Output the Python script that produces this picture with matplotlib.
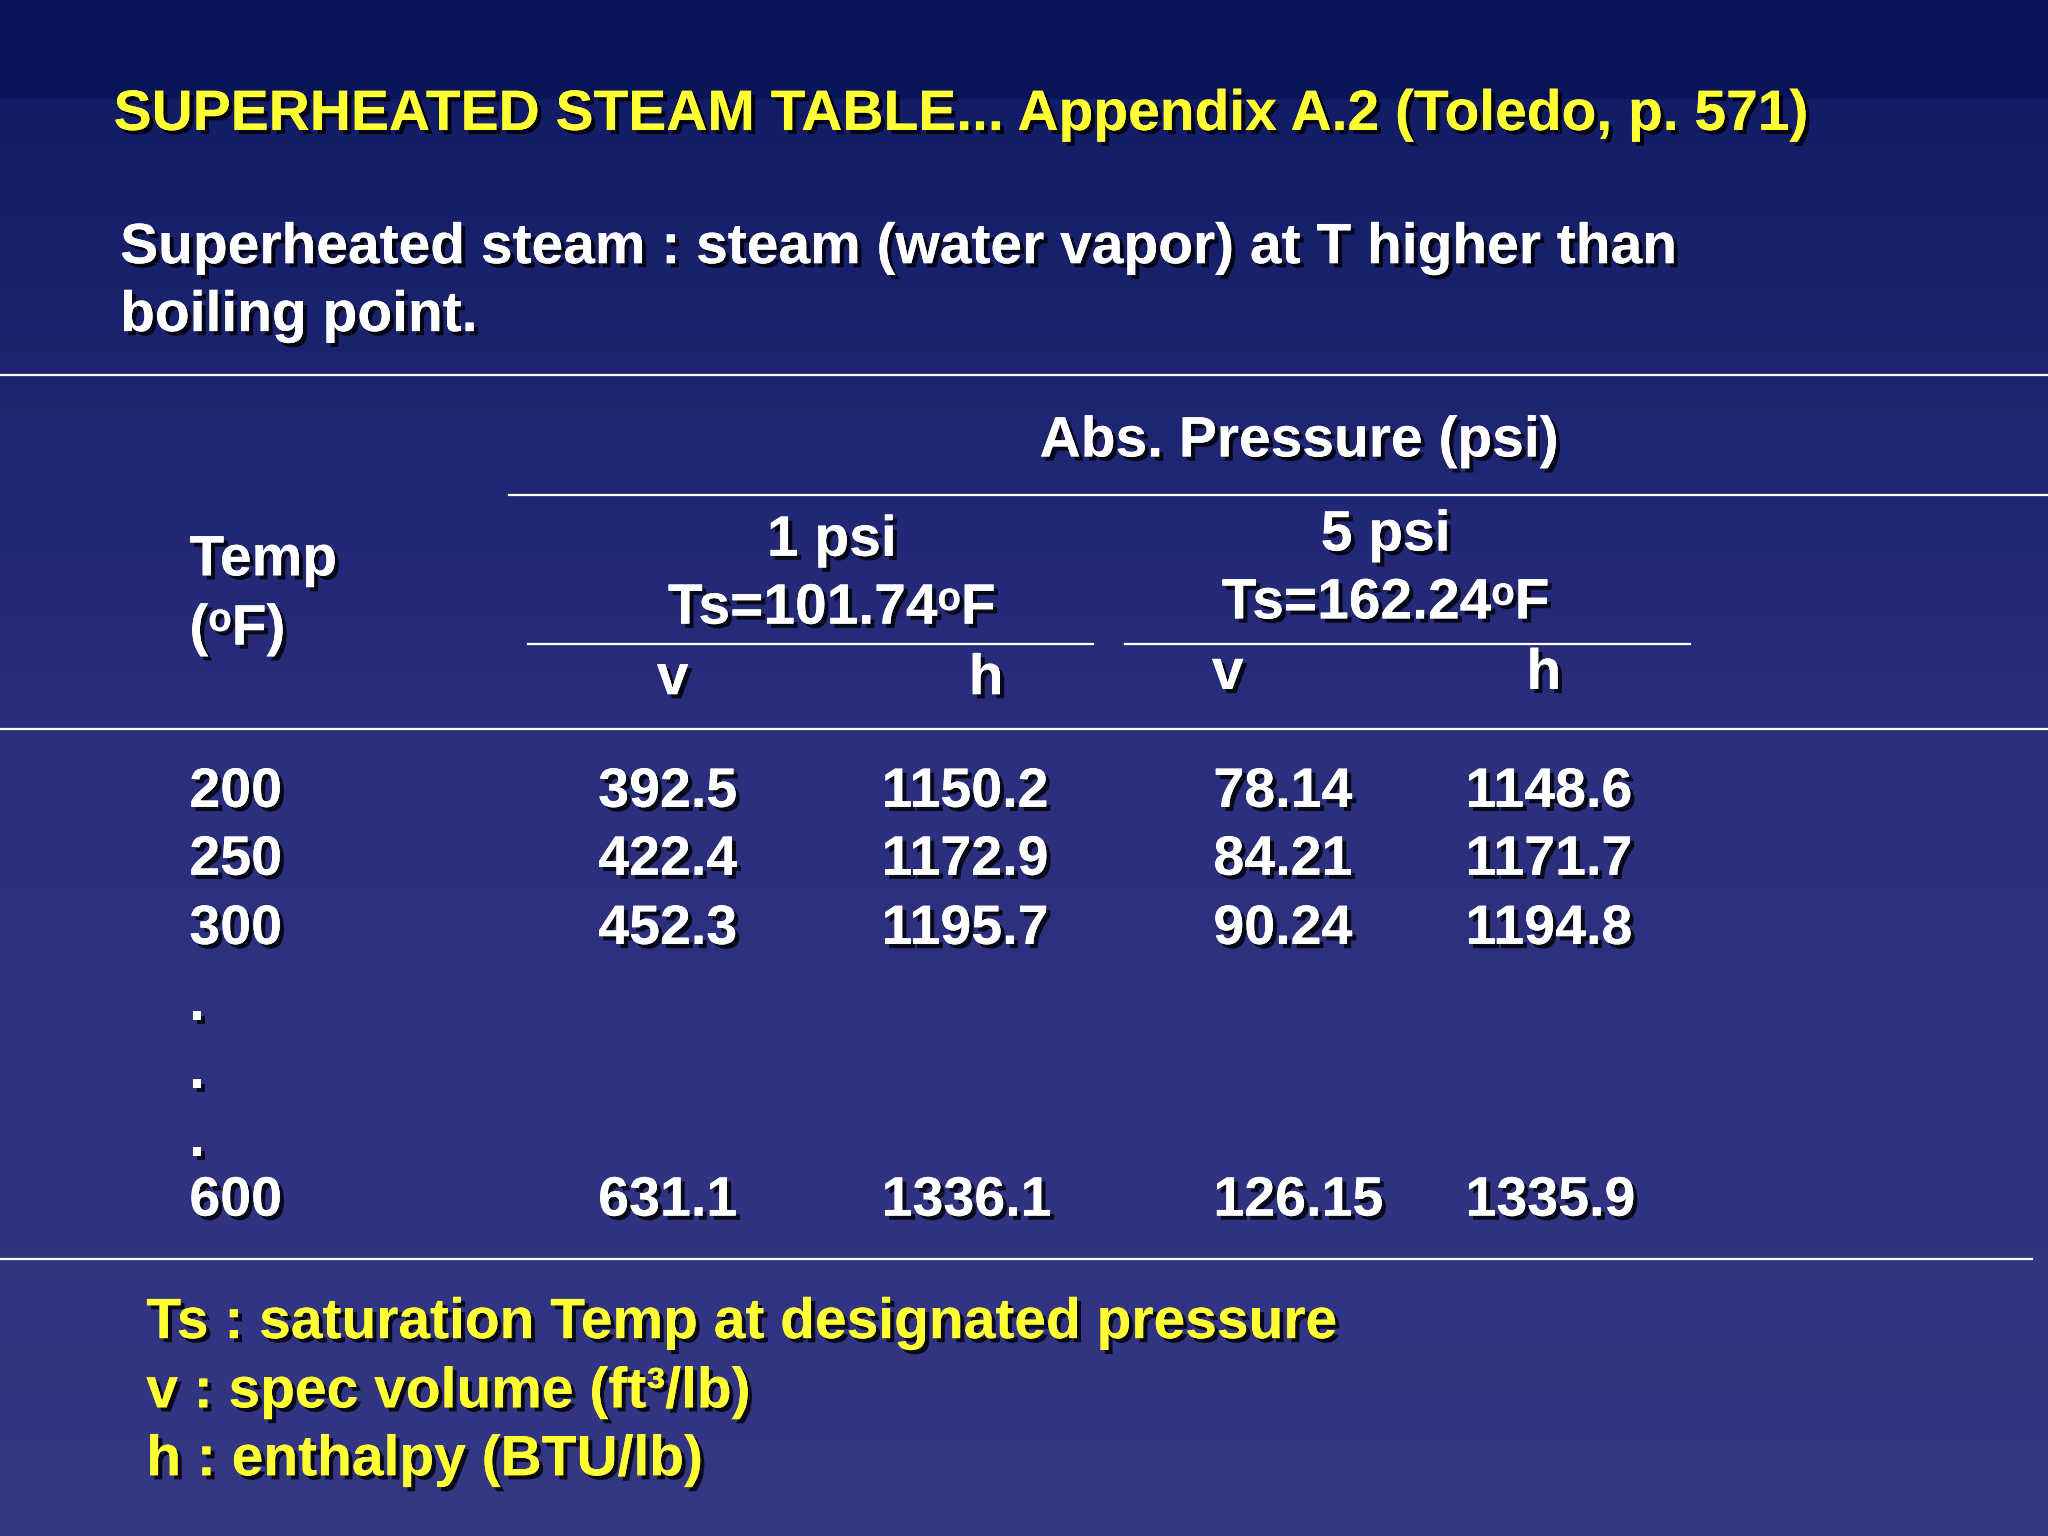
import numpy as np
import matplotlib
matplotlib.use("Agg")
import matplotlib.pyplot as plt
import matplotlib.patheffects as pe
from matplotlib.colors import LinearSegmentedColormap

temps = ["200", "250", "300", ".", ".", ".", "600"]
v1 = ["392.5", "422.4", "452.3", "", "", "", "631.1"]
h1 = ["1150.2", "1172.9", "1195.7", "", "", "", "1336.1"]
v5 = ["78.14", "84.21", "90.24", "", "", "", "126.15"]
h5 = ["1148.6", "1171.7", "1194.8", "", "", "", "1335.9"]
row_y = [607, 659, 712, 770, 822, 874, 920]

W, H = 1568, 1176
fig = plt.figure(figsize=(20.48, 15.36), dpi=100)
bg = fig.add_axes([0, 0, 1, 1])
grad = np.linspace(0, 1, 256)[:, None]
cmap = LinearSegmentedColormap.from_list("g", ["#101a64", "#2a2f7e", "#343784"])
bg.imshow(grad, aspect="auto", cmap=cmap, extent=[0, W, H, 0])
bg.fill_between([0, W], 0, 75, color="#0a1458")
bg.set_xlim(0, W); bg.set_ylim(H, 0); bg.axis("off")

sh = [pe.withSimplePatchShadow(offset=(3, -3), shadow_rgbFace="black", alpha=0.8), pe.Normal()]
def t(x, y, s, c="white", size=41, ha="left"):
    bg.text(x, y, s, color=c, fontsize=size, fontweight="bold", family="Liberation Sans",
            ha=ha, va="center", path_effects=sh)

t(87, 88, "SUPERHEATED STEAM TABLE... Appendix A.2 (Toledo, p. 571)", c="#ffff33", size=41)
t(92, 190, "Superheated steam : steam (water vapor) at T higher than", size=41)
t(92, 242, "boiling point.", size=41)
t(995, 338, "Abs. Pressure (psi)", size=41, ha="center")
t(145, 429, "Temp", size=41)
t(145, 482, "(ᵒF)", size=41)
t(637, 414, "1 psi", size=41, ha="center")
t(637, 466, "Ts=101.74ᵒF", size=41, ha="center")
t(1061, 410, "5 psi", size=41, ha="center")
t(1061, 462, "Ts=162.24ᵒF", size=41, ha="center")
t(515, 520, "v", size=41, ha="center")
t(755, 520, "h", size=41, ha="center")
t(940, 516, "v", size=41, ha="center")
t(1182, 516, "h", size=41, ha="center")

for i, y in enumerate(row_y):
    t(145, y, temps[i], size=40)
    t(458, y, v1[i], size=40)
    t(675, y, h1[i], size=40)
    t(929, y, v5[i], size=40)
    t(1122, y, h5[i], size=40)

t(112, 1013, "Ts : saturation Temp at designated pressure", c="#ffff33", size=41)
t(112, 1066, "v : spec volume (ft³/lb)", c="#ffff33", size=41)
t(112, 1118, "h : enthalpy (BTU/lb)", c="#ffff33", size=41)

lw = 1.6
for (x0, x1, y) in [(0, W, 287), (390, W, 379), (404, 837, 493), (861, 1294, 493), (0, W, 558), (0, 1556, 964)]:
    bg.plot([x0, x1], [y, y], color="white", lw=lw)

fig.savefig("out.png", dpi=100)
